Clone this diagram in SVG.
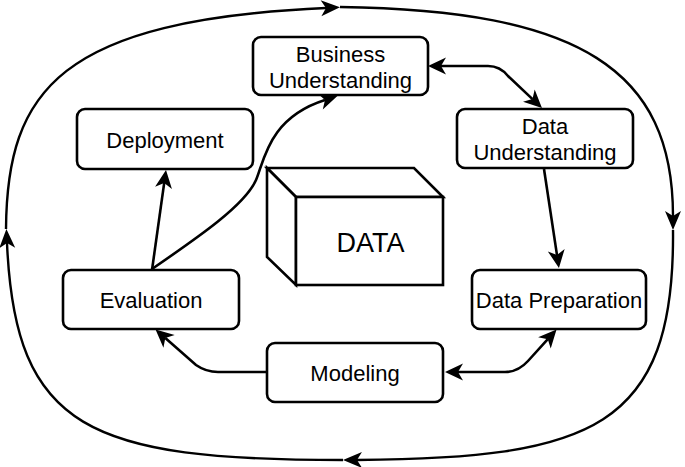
<svg xmlns="http://www.w3.org/2000/svg" width="685" height="467" viewBox="0 0 685 467">
<style>
.box{fill:#fff;stroke:#000;stroke-width:2.6}
.t{font-family:"Liberation Sans",Arial,sans-serif;font-size:22px;fill:#000;text-anchor:middle}
.c{fill:none;stroke:#000;stroke-width:2.6}
.o{fill:none;stroke:#000;stroke-width:2.4}
</style>
<defs>
<marker id="a" markerUnits="userSpaceOnUse" markerWidth="40" markerHeight="40" refX="0" refY="0" orient="auto-start-reverse" overflow="visible">
<path d="M13 0 L-5 -8.5 L0 0 L-5 8.5 Z" fill="#000"/>
</marker>
<marker id="ao" markerUnits="userSpaceOnUse" markerWidth="40" markerHeight="40" refX="0" refY="0" orient="auto" overflow="visible">
<path d="M14 0 L-5 -8 L0 0 L-5 8 Z" fill="#000"/>
</marker>
</defs>
<g id="outer-loop">
<path class="o" d="M6 229 C7 90 60 20 326 8" marker-end="url(#ao)"/>
<path class="o" d="M340 7 C580 10 673 70 673 216" marker-end="url(#ao)"/>
<path class="o" d="M673 230 C675 430 590 458 357 460" marker-end="url(#ao)"/>
<path class="o" d="M343 460 C90 460 15 430 7 243" marker-end="url(#ao)"/>
</g>
<g id="connectors">
<path class="c" d="M441 66 L488 66 Q500 66 508 76 L532.5 99.1" marker-start="url(#a)" marker-end="url(#a)"/>
<path class="c" d="M544 169 L557 255.1" marker-end="url(#a)"/>
<path class="c" d="M547.8 339.2 L528 361 Q518 372 505 372 L458 372" marker-start="url(#a)" marker-end="url(#a)"/>
<path class="c" d="M267 372 L218 372 Q206 372 196 365 L165.3 338" marker-end="url(#a)"/>
<path class="c" d="M152 270 L164.2 182.9" marker-end="url(#a)"/>
<path class="c" d="M152 269 C200 236 245 205 256 180 C264 162 268 118 325 100" marker-end="url(#a)"/>
</g>
<g id="business-understanding">
<rect class="box" x="253" y="37" width="175" height="58" rx="8"/>
<text class="t" x="340.5" y="61.5">Business</text>
<text class="t" x="340.5" y="87.5">Understanding</text>
</g>
<g id="deployment">
<rect class="box" x="77" y="109" width="176" height="60" rx="8"/>
<text class="t" x="165" y="147.5">Deployment</text>
</g>
<g id="data-understanding">
<rect class="box" x="457" y="109" width="176" height="59" rx="8"/>
<text class="t" x="545" y="134">Data</text>
<text class="t" x="545" y="160">Understanding</text>
</g>
<g id="evaluation">
<rect class="box" x="63" y="270" width="176" height="59" rx="8"/>
<text class="t" x="151" y="308">Evaluation</text>
</g>
<g id="data-preparation">
<rect class="box" x="472" y="270" width="174" height="59" rx="8"/>
<text class="t" x="559" y="308">Data Preparation</text>
</g>
<g id="modeling">
<rect class="box" x="267" y="343" width="176" height="59" rx="8"/>
<text class="t" x="355" y="380.5">Modeling</text>
</g>
<g id="data">
<path d="M267 168 L414 168 L443 197 L296 197 Z" fill="#fff" stroke="#000" stroke-width="2.6" stroke-linejoin="miter"/>
<path d="M267 168 L296 197 L296 285 L267 257 Z" fill="#fff" stroke="#000" stroke-width="2.6"/>
<rect x="296" y="197" width="147" height="88" fill="#fff" stroke="#000" stroke-width="2.6"/>
<text x="370.5" y="251.5" style="font-family:'Liberation Sans',Arial,sans-serif;font-size:27px;text-anchor:middle">DATA</text>
</g>
</svg>
